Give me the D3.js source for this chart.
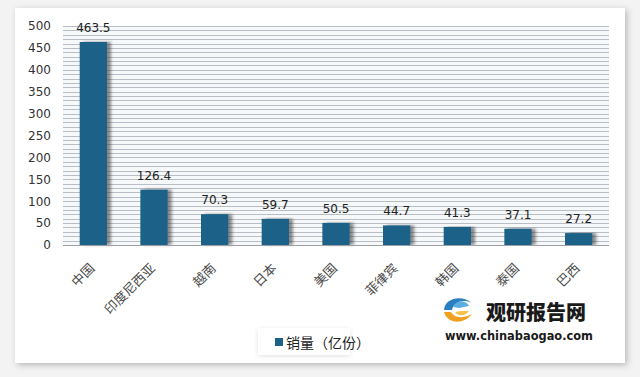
<!DOCTYPE html>
<html>
<head>
<meta charset="utf-8">
<script src="https://cdn.jsdelivr.net/npm/d3@7/dist/d3.min.js"></script>
<style>
  html, body { margin: 0; padding: 0; background: #f3f3f3; }
  svg { display: block; }
</style>
</head>
<body>
<div id="chart"></div>
<script>
// data
var countries = ['中国', '印度尼西亚', '越南', '日本', '美国', '菲律宾', '韩国', '泰国', '巴西'];
var sales = [463.5, 126.4, 70.3, 59.7, 50.5, 44.7, 41.3, 37.1, 27.2];
var yTicks = [0, 50, 100, 150, 200, 250, 300, 350, 400, 450, 500];
var seriesName = '销量（亿份）';

var W = 640, H = 377;
var barColor = '#1b6288';

var svg = d3.select('#chart').append('svg')
    .attr('width', W)
    .attr('height', H);

var defs = svg.append('defs');
var f = defs.append('filter').attr('id', 'panelShadow')
    .attr('x', '-5%').attr('y', '-5%').attr('width', '110%').attr('height', '110%');
f.append('feDropShadow').attr('dx', 2).attr('dy', 2).attr('stdDeviation', 3)
    .attr('flood-color', '#000').attr('flood-opacity', 0.25);

var bs = defs.append('filter').attr('id', 'barShadow')
    .attr('x', '-20%').attr('y', '-5%').attr('width', '160%').attr('height', '110%');
bs.append('feDropShadow').attr('dx', 4).attr('dy', 0).attr('stdDeviation', 1.6)
    .attr('flood-color', '#333').attr('flood-opacity', 0.55);

var ls = defs.append('filter').attr('id', 'legShadow')
    .attr('x', '-10%').attr('y', '-20%').attr('width', '120%').attr('height', '140%');
ls.append('feDropShadow').attr('dx', 0).attr('dy', 1).attr('stdDeviation', 2)
    .attr('flood-color', '#000').attr('flood-opacity', 0.12);

// white panel
svg.append('rect')
    .attr('x', 15).attr('y', 8)
    .attr('width', 610).attr('height', 355)
    .attr('fill', '#fff')
    .attr('filter', 'url(#panelShadow)');

var x = d3.scaleBand()
    .domain(countries)
    .range([63, 609])
    .paddingInner(0.55)
    .paddingOuter(0.275);

var y = d3.scaleLinear()
    .domain([0, 500])
    .range([245, 26]);

// plot background + dense striped grid, one line per 10
svg.append('rect')
    .attr('x', 63).attr('y', y(500))
    .attr('width', 546).attr('height', y(0) - y(500))
    .attr('fill', '#f7f8f9');
var stripes = d3.range(10, 501, 10);
svg.append('g').selectAll('line')
    .data(stripes)
  .enter().append('line')
    .attr('x1', 63).attr('x2', 609)
    .attr('y1', function(d) { return Math.round(y(d)) + 0.5; })
    .attr('y2', function(d) { return Math.round(y(d)) + 0.5; })
    .attr('stroke', '#b7bec5')
    .attr('stroke-width', 1.2);

// y axis labels
var yAxis = d3.axisLeft(y).tickValues(yTicks).tickSize(0).tickPadding(0);
var gy = svg.append('g')
    .attr('transform', 'translate(51,0)')
    .call(yAxis);
gy.select('.domain').remove();
gy.selectAll('text')
    .attr('font-family', 'DejaVu Sans, Verdana, sans-serif')
    .attr('font-size', '12px')
    .attr('fill', '#333');

// bars
svg.append('g').selectAll('rect')
    .data(sales)
  .enter().append('rect')
    .attr('x', function(d, i) { return x(countries[i]); })
    .attr('y', function(d) { return y(d); })
    .attr('width', x.bandwidth())
    .attr('height', function(d) { return y(0) - y(d); })
    .attr('fill', barColor)
    .attr('filter', 'url(#barShadow)');

// x axis line
svg.append('line')
    .attr('x1', 63).attr('x2', 609)
    .attr('y1', y(0) + 0.5).attr('y2', y(0) + 0.5)
    .attr('stroke', '#9aa0a6');

// value labels
svg.append('g').selectAll('text')
    .data(sales)
  .enter().append('text')
    .attr('x', function(d, i) { return x(countries[i]) + x.bandwidth() / 2; })
    .attr('y', function(d) { return y(d) - 10; })
    .attr('text-anchor', 'middle')
    .attr('font-family', 'DejaVu Sans, Verdana, sans-serif')
    .attr('font-size', '12px')
    .attr('fill', '#222')
    .text(function(d) { return d.toFixed(1); });

// rotated category labels
var xAxis = d3.axisBottom(x).tickSize(0).tickPadding(0);
var gx = svg.append('g')
    .attr('transform', 'translate(0,' + y(0) + ')')
    .call(xAxis);
gx.select('.domain').remove();
gx.selectAll('text')
    .attr('font-family', '"Noto Sans CJK SC", sans-serif')
    .attr('font-size', '13px')
    .attr('fill', '#4a4a4a')
    .attr('text-anchor', 'end')
    .attr('dy', null)
    .attr('transform', 'translate(2,24) rotate(-45)');

// legend
svg.append('rect')
    .attr('x', 258).attr('y', 328)
    .attr('width', 92).attr('height', 27)
    .attr('fill', '#fff')
    .attr('filter', 'url(#legShadow)');
svg.append('rect')
    .attr('x', 275).attr('y', 338)
    .attr('width', 8).attr('height', 8)
    .attr('fill', barColor);
svg.append('text')
    .attr('x', 286).attr('y', 347.5)
    .attr('font-family', '"Noto Sans CJK SC", sans-serif')
    .attr('font-size', '14px')
    .attr('fill', '#222')
    .text(seriesName);

// watermark logo
var logo = svg.append('g');
logo.append('path')
    .attr('d', 'M444,310 C445,297 463,295 472,303 C464,299 454,301 452,310 Z')
    .attr('fill', '#2a7fc0');
logo.append('path')
    .attr('d', 'M453,307 C456,300 466,300 469,306 L459,308 Z')
    .attr('fill', '#5aaee0');
logo.append('path')
    .attr('d', 'M444,312 C447,324 464,325 472,314 C465,318 455,319 451,312 Z')
    .attr('fill', '#f0a020');
logo.append('path')
    .attr('d', 'M455,312 C458,317 466,316 469,311 L461,311 Z')
    .attr('fill', '#f6c34a');
logo.append('text')
    .attr('x', 486).attr('y', 320)
    .attr('font-family', '"Noto Sans CJK SC", sans-serif')
    .attr('font-weight', 900)
    .attr('font-size', '20px')
    .attr('fill', '#1a1a1a')
    .text('观研报告网');
logo.append('text')
    .attr('x', 445).attr('y', 340)
    .attr('font-family', 'DejaVu Sans, sans-serif')
    .attr('font-weight', 'bold')
    .attr('font-size', '12px')
    .attr('textLength', 148)
    .attr('lengthAdjust', 'spacingAndGlyphs')
    .attr('fill', '#1a1a1a')
    .text('www.chinabaogao.com');
</script>
</body>
</html>
